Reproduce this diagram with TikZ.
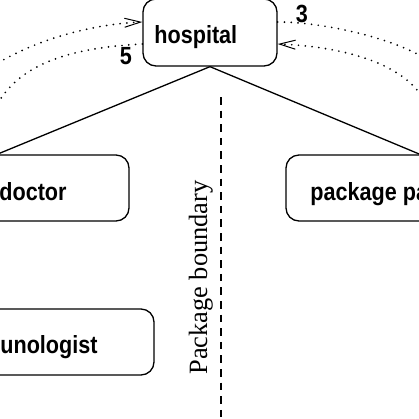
\documentclass[tikz,border=0pt]{standalone}
\usepackage{fontspec}
\setmainfont{Liberation Serif}
\newfontfamily\labelfont{Liberation Sans}
\usepackage{graphicx}
\usetikzlibrary{arrows.meta,calc}

\newcommand{\tallbf}[1]{\scalebox{1}[1.15]{\bfseries #1}}

\begin{document}
\begin{tikzpicture}[x=0.5pt,y=-0.5pt,
  box/.style={draw,rounded corners=6.5pt,line width=0.65pt,minimum height=33pt,inner sep=0pt},
  lbl/.style={font=\labelfont\fontsize{10.8}{13}\selectfont,inner sep=0pt,anchor=base west},
  arr/.style={-{Straight Barb[length=8pt,width=4.5pt,line width=0.5pt]}},
  dots/.style={line width=0.95pt,line cap=round,dash pattern=on 0pt off 3.4pt},
  link/.style={line width=0.65pt},
  bound/.style={line width=0.85pt,dash pattern=on 3.8pt off 3pt}]
\useasboundingbox (0,0) rectangle (419,419);
\clip (0,0) rectangle (419,419);
% boxes
\node[box,minimum width=67pt,minimum height=33.5pt] (hospital) at (210,32.5) {};
\node[box,minimum width=132pt] (doctor) at (-3,188) {};
\node[box,minimum width=134pt] (pkg) at (420,188) {};
\node[box,minimum width=124pt] (immuno) at (30,342) {};
\node[lbl] (hospitaltxt) at (154,43) {\tallbf{hospital}};
\node[lbl] (doctortxt) at (-1,200) {\tallbf{doctor}};
\node[lbl] (pkgtxt) at (310,200) {\tallbf{package pa}};
\node[lbl] (immunotxt) at (0,353) {\tallbf{unologist}};
% package boundary
\coordinate (bt) at (221,97);
\coordinate (bb) at (221,425);
\draw[bound] (bt) -- (bb);
\node[rotate=90,anchor=base,font=\fontsize{13.2}{15}\selectfont,inner sep=0pt] (boundary) at (207,277.5) {Package boundary};
% links
\draw[link] (hospital.south) -- (doctor.north);
\draw[link] (hospital.south) -- (pkg.north);
% messages
\coordinate (lu) at (-2,63);
\coordinate (ll) at (-2,103);
\coordinate (ru) at (421,56);
\coordinate (rl) at (421,95);
\draw[dots,arr] (lu) .. controls (40,38) and (95,24) .. ($(hospital.west)+(0,-10.5)$);
\draw[dots] ($(hospital.west)+(0,11.5)$) .. controls (65,48) and (20,66) .. (ll);
\draw[dots] ($(hospital.east)+(0,-10.5)$) .. controls (320,22) and (385,36) .. (ru);
\draw[dots,arr] (rl) .. controls (395,58) and (330,46) .. ($(hospital.east)+(0,11.5)$);
\node[lbl,anchor=base] (five) at (126,64) {\tallbf{5}};
\node[lbl,anchor=base] (three) at (302,22) {\tallbf{3}};
\end{tikzpicture}
\end{document}
